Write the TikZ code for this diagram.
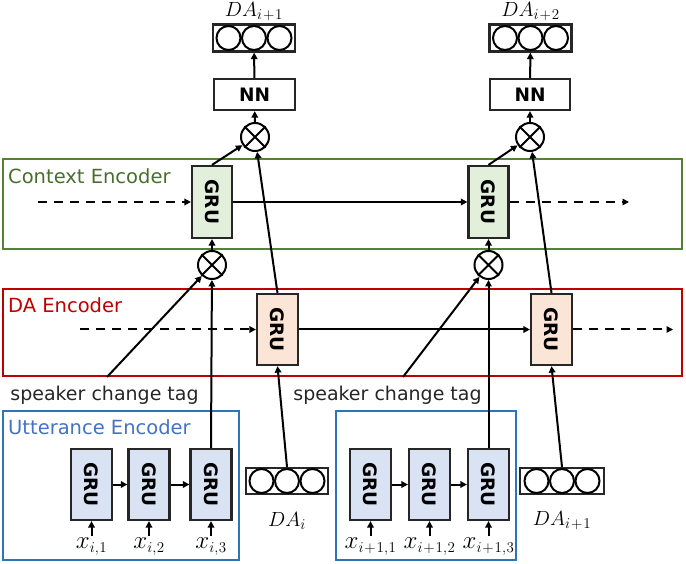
\RequirePackage{fix-cm}
\documentclass[tikz,border=0pt]{standalone}
\usepackage{fontspec}
\setsansfont{DejaVu Sans}
\usetikzlibrary{arrows.meta}
\definecolor{cgreen}{RGB}{84,130,53}
\definecolor{cgreentext}{RGB}{72,110,45}
\definecolor{cgreenfill}{RGB}{226,239,218}
\definecolor{cred}{RGB}{192,0,0}
\definecolor{credfill}{RGB}{251,229,214}
\definecolor{cblue}{RGB}{46,117,182}
\definecolor{cbluetext}{RGB}{68,114,196}
\definecolor{cbluefill}{RGB}{218,227,243}
\newcommand{\subsm}[1]{\hbox{\fontsize{15}{17}\selectfont\medmuskip=1mu\thinmuskip=0.5mu$#1$}}
\begin{document}
\begin{tikzpicture}[x=1pt,y=-1pt,
  gru/.style={draw=black!85, line width=2.2pt, minimum width=41pt, minimum height=71pt, inner sep=0pt,
    font=\fontsize{18.5}{20}\sffamily\bfseries},
  nnbox/.style={draw=black!85, line width=2.2pt, minimum width=81pt, minimum height=31pt, inner sep=0pt,
    font=\fontsize{18.5}{20}\sffamily\bfseries},
  vecbox/.style={draw=black!85, line width=2.2pt, minimum width=82pt, minimum height=27pt, inner sep=0pt},
  otimes/.style={circle, draw=black, line width=2pt, minimum size=28pt, inner sep=0pt},
  frame/.style={line width=2.2pt},
  enclabel/.style={anchor=west, inner sep=0pt, font=\fontsize{19.5}{22}\sffamily},
  tag/.style={inner sep=0pt, font=\fontsize{19}{22}\sffamily, text=black!85},
  mathlabel/.style={inner sep=0pt, font=\fontsize{20.5}{22}\selectfont},
  xlabel/.style={anchor=north, inner sep=2pt, font=\fontsize{25}{28}\selectfont},
  conn/.style={line width=2pt, -{Triangle[length=6.5pt,width=6.5pt]}},
  dconn/.style={conn, dash pattern=on 9pt off 7pt},
]
\useasboundingbox (0,0) rectangle (686,564);

% frames
\draw[frame, cgreen] (3,159) rectangle (682,249);
\draw[frame, cred] (3,289) rectangle (682,376);
\draw[frame, cblue] (3,411) rectangle (239,560);
\draw[frame, cblue] (336,411) rectangle (516,560);

\node[enclabel, text=cgreentext] (lctx) at (8,176) {Context Encoder};
\node[enclabel, text=cred] (lda) at (8,305) {DA Encoder};
\node[enclabel, text=cbluetext] (lutt) at (8,427) {Utterance Encoder};

\node[tag] (sct1) at (104.5,395) {speaker change tag};
\node[tag] (sct2) at (387.5,395) {speaker change tag};
\coordinate (s1) at (107,377);
\coordinate (s2) at (403,377);

% context GRUs
\node[gru, fill=cgreenfill, minimum width=40pt, minimum height=72pt] (cg1) at (212,202) {\rotatebox{-90}{GRU}};
\node[gru, fill=cgreenfill, minimum width=40pt, minimum height=72pt] (cg2) at (488.5,202) {\rotatebox{-90}{GRU}};
% DA GRUs
\node[gru, fill=credfill] (dg1) at (277.5,329.5) {\rotatebox{-90}{GRU}};
\node[gru, fill=credfill] (dg2) at (551.5,329.5) {\rotatebox{-90}{GRU}};
% utterance GRUs
\node[gru, fill=cbluefill] (ua) at (91.5,484.5) {\rotatebox{-90}{GRU}};
\node[gru, fill=cbluefill] (ub) at (149,484.5) {\rotatebox{-90}{GRU}};
\node[gru, fill=cbluefill] (uc) at (211,484.5) {\rotatebox{-90}{GRU}};
\node[gru, fill=cbluefill] (va) at (370.5,484.5) {\rotatebox{-90}{GRU}};
\node[gru, fill=cbluefill] (vb) at (429.5,484.5) {\rotatebox{-90}{GRU}};
\node[gru, fill=cbluefill] (vc) at (488.5,484.5) {\rotatebox{-90}{GRU}};

% otimes
\foreach \n/\x/\y in {ot1/255/137, ot2/530/137, ol1/212/265, ol2/488.5/265}{
  \node[otimes] (\n) at (\x,\y) {};
  \draw[line width=2pt] (\n.north west) -- (\n.south east) (\n.north east) -- (\n.south west);
}

% NN boxes
\node[nnbox] (nn1) at (254.5,94.5) {NN};
\node[nnbox, minimum width=80pt] (nn2) at (530,94.5) {NN};

% vector boxes
\node[vecbox] (vt1) at (254,38) {};
\node[vecbox] (vt2) at (530.5,38) {};
\node[vecbox, minimum height=26pt] (vb1) at (287,481) {};
\node[vecbox, minimum width=84pt, minimum height=26pt] (vb2) at (562,481) {};
\foreach \v in {vt1,vt2,vb1,vb2}{
  \foreach \dx in {-25.5,0,25.5}{
    \draw[line width=2pt] ([xshift=\dx pt]\v.center) circle (12pt);
  }
}

\node[mathlabel] (lt1) at (254,12) {$DA_{\subsm{i+1}}$};
\node[mathlabel] (lt2) at (530.5,12) {$DA_{\subsm{i+2}}$};
\node[mathlabel] (lb1) at (287,521) {$DA_{\subsm{i}}$};
\node[mathlabel] (lb2) at (562,521) {$DA_{\subsm{i+1}}$};

\node[xlabel] (xa) at (91.5,536) {$x_{\subsm{i,1}}$};
\node[xlabel] (xb) at (149,536) {$x_{\subsm{i,2}}$};
\node[xlabel] (xc) at (211,536) {$x_{\subsm{i,3}}$};
\node[xlabel] (ya) at (370.5,536) {$x_{\subsm{i+1,1}}$};
\node[xlabel] (yb) at (429.5,536) {$x_{\subsm{i+1,2}}$};
\node[xlabel] (yc) at (488.5,536) {$x_{\subsm{i+1,3}}$};

% connectors: top
\draw[conn] (ot1) -- (nn1);
\draw[conn] (nn1) -- (vt1);
\draw[conn] (ot2) -- (nn2);
\draw[conn] (nn2) -- (vt2);
\draw[conn] (cg1.north) -- (ot1);
\draw[conn] (cg2.north) -- (ot2);
\draw[conn] (dg1.north) -- (ot1);
\draw[conn] (dg2.north) -- (ot2);

% context chain
\coordinate (cs) at (38,202);
\coordinate (ce) at (629,202);
\draw[dconn] (cs) -- (cg1);
\draw[conn] (cg1) -- (cg2);
\draw[dconn] (cg2) -- (ce);

% DA chain
\coordinate (ds) at (80,329.5);
\coordinate (de) at (673,329.5);
\draw[dconn] (ds) -- (dg1);
\draw[conn] (dg1) -- (dg2);
\draw[dconn] (dg2) -- (de);

% lower otimes
\draw[conn] (ol1) -- (cg1);
\draw[conn] (ol2) -- (cg2);
\draw[conn] (s1) -- (ol1);
\draw[conn] (s2) -- (ol2);
\draw[conn] (uc.north) -- (ol1);
\draw[conn] (vc.north) -- (ol2);

% DA inputs
\draw[conn] (vb1.north) -- (dg1.south);
\draw[conn] (vb2.north) -- (dg2.south);

% utterance chains
\draw[conn] (ua) -- (ub);
\draw[conn] (ub) -- (uc);
\draw[conn] (va) -- (vb);
\draw[conn] (vb) -- (vc);
\foreach \l/\g in {xa/ua, xb/ub, xc/uc, ya/va, yb/vb, yc/vc}{
  \draw[conn] (\l.north) -- (\g.south);
}
\end{tikzpicture}
\end{document}
